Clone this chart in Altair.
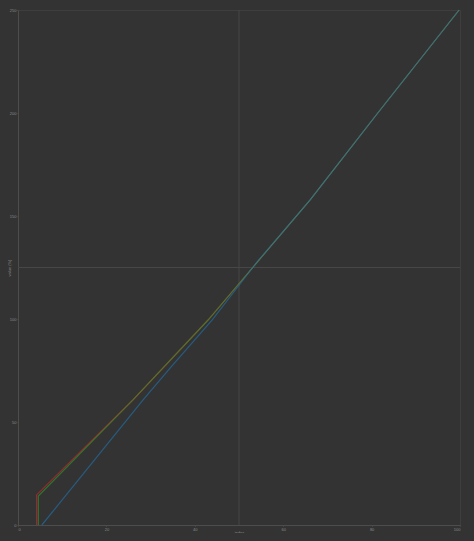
import altair as alt
import pandas as pd

# Series values
red_x = [4.2, 4.2, 26.0, 43.0, 66.1, 81.4, 99.8]
red_y = [0, 14.6, 60.7, 99.5, 157.8, 200, 250]
green_x = [4.6, 4.6, 26.0, 43.0, 66.1, 81.4, 99.8]
green_y = [0, 14.1, 60.7, 99.5, 157.8, 200, 250]
blue_x = [5.4, 28.3, 34.4, 43.9, 54.1, 66.1, 81.4, 99.8]
blue_y = [0, 60.7, 76.2, 99.5, 127.7, 157.8, 200, 250]

series_names = ["red", "green", "blue"]
series_colors = ["#d62728", "#2ca02c", "#1f77b4"]
x_ticks = [0, 20, 40, 60, 80, 100]
y_ticks = [0, 50, 100, 150, 200, 250]
x_grid = [50]
y_grid = [125]

rows = []
for name, xs, ys in zip(series_names, [red_x, green_x, blue_x], [red_y, green_y, blue_y]):
    for i, (xv, yv) in enumerate(zip(xs, ys)):
        rows.append({"series": name, "x": xv, "y": yv, "i": i})
df = pd.DataFrame(rows)

xscale = alt.Scale(domain=[0, 100], nice=False, zero=False)
yscale = alt.Scale(domain=[0, 250], nice=False, zero=False)

vgrid = alt.Chart(pd.DataFrame({"x": x_grid})).mark_rule(color="#474747", strokeWidth=1).encode(
    x=alt.X("x:Q", scale=xscale)
)
hgrid = alt.Chart(pd.DataFrame({"y": y_grid})).mark_rule(color="#474747", strokeWidth=1).encode(
    y=alt.Y("y:Q", scale=yscale)
)

lines = alt.Chart(df).mark_line(strokeWidth=1.2, opacity=0.6).encode(
    x=alt.X("x:Q", scale=xscale,
            axis=alt.Axis(values=x_ticks, title="index", grid=False, labelFontSize=4,
                          labelColor="#8a8a8a", titleColor="#8a8a8a", titleFontSize=4,
                          titleFontWeight="normal", tickSize=1, tickColor="#555",
                          labelPadding=1, titleY=5, titleBaseline="top",
                          domainColor="#4d4d4d")),
    y=alt.Y("y:Q", scale=yscale,
            axis=alt.Axis(values=y_ticks, title="value (%)", grid=False, labelFontSize=4,
                          labelColor="#8a8a8a", titleColor="#8a8a8a", titleFontSize=4,
                          titleFontWeight="normal", tickSize=1, tickColor="#555",
                          labelPadding=1, titleX=-7, titleBaseline="bottom",
                          domainColor="#4d4d4d")),
    color=alt.Color("series:N", scale=alt.Scale(domain=series_names, range=series_colors), legend=None),
    order="i:Q",
)

chart = alt.layer(vgrid, hgrid, lines).properties(
    width=442, height=515,
    autosize=alt.AutoSizeParams(type="none"),
    padding={"left": 10, "top": 2, "right": 6, "bottom": 8},
    background="#333333",
).configure_view(stroke="#3e3e3e", strokeWidth=1)

chart.save("out.html", embed_options={"renderer": "svg", "actions": False,
                                      "defaultStyle": "body{background:#333333;}"})
